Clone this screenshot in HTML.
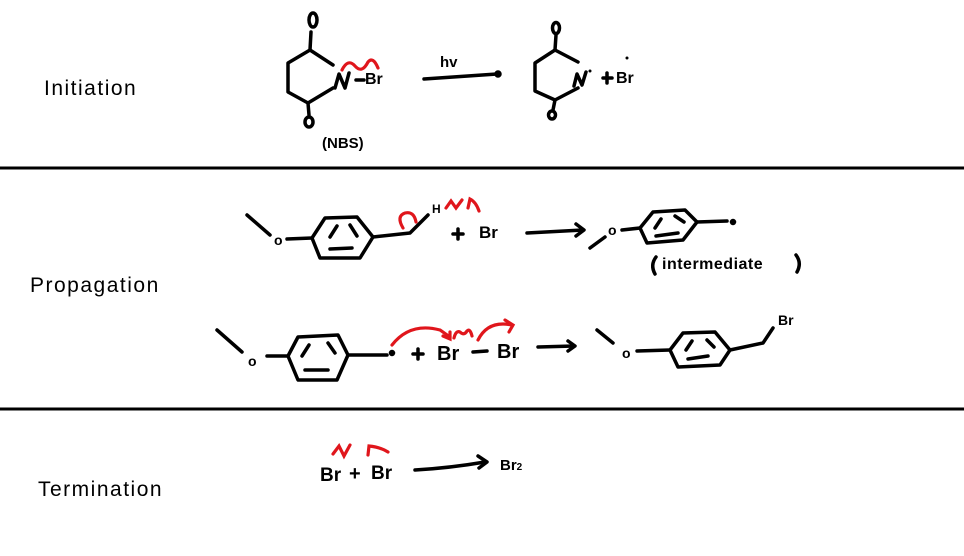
<!DOCTYPE html>
<html><head><style>
html,body{margin:0;padding:0;background:#fff;}
svg{display:block}
text{font-family:"Liberation Sans",sans-serif;}
</style></head><body>
<svg width="964" height="556" viewBox="0 0 964 556" xmlns="http://www.w3.org/2000/svg">
<g fill="none" stroke="#000" stroke-width="3.5" stroke-linecap="round" stroke-linejoin="round">
<line x1="0" y1="168" x2="964" y2="168" stroke-width="3"/>
<line x1="0" y1="409" x2="964" y2="409" stroke-width="3"/>
<!-- NBS -->
<path d="M333,65 L310,50 L288,63 L288,92 L308,103 L333,88"/>
<line x1="310" y1="50" x2="311" y2="32"/>
<ellipse cx="313" cy="20" rx="4" ry="7"/>
<line x1="308" y1="103" x2="309" y2="115"/>
<ellipse cx="309" cy="122" rx="4" ry="5"/>
<path d="M335,88 L339,74 L345,88 L349,73"/>
<line x1="356" y1="80" x2="364" y2="80"/>
<path d="M424,79 L497,74"/>
<circle cx="498" cy="74" r="2" fill="#000"/>
<path d="M578,62 L555,50 L535,63 L535,91 L555,100 L578,88"/>
<line x1="555" y1="50" x2="556" y2="35"/>
<ellipse cx="556" cy="28" rx="3.5" ry="5.5"/>
<line x1="555" y1="100" x2="553" y2="110"/>
<ellipse cx="552" cy="115" rx="3.5" ry="4"/>
<path d="M574,86 L577,74 L582,85 L586,72"/>
<line x1="603" y1="78" x2="612" y2="78"/>
<line x1="607" y1="73" x2="607" y2="83"/>
<!-- prop row 1 -->
<path d="M247,215 L270,235"/>
<line x1="287" y1="239" x2="312" y2="238"/>
<path d="M312,238 L325,218 L357,217 L373,237 L360,258 L320,258 Z"/>
<line x1="330" y1="237" x2="337" y2="226"/><line x1="350" y1="225" x2="357" y2="236"/><line x1="330" y1="249" x2="352" y2="248"/>
<path d="M373,237 L410,233 L428,215"/>
<line x1="453" y1="234" x2="463" y2="234"/><line x1="458" y1="229" x2="458" y2="239"/>
<path d="M527,233 L583,230"/><path d="M576,224 L584,230 L576,236"/>
<path d="M590,248 L605,237"/>
<line x1="622" y1="230" x2="640" y2="228"/>
<path d="M640,228 L653,212 L685,210 L697,222 L683,240 L647,243 Z"/>
<line x1="655" y1="228" x2="661" y2="219"/><line x1="675" y1="216" x2="684" y2="222"/><line x1="656" y1="236" x2="678" y2="233"/>
<line x1="697" y1="222" x2="727" y2="221"/>
<circle cx="733" cy="222" r="1.5" fill="#000"/>
<path d="M656,257 Q650,265 655,274"/><path d="M796,255 Q802,263 797,272"/>
<!-- prop row 2 -->
<path d="M217,330 L242,352"/>
<line x1="267" y1="356" x2="288" y2="356"/>
<path d="M288,356 L298,337 L338,335 L348,355 L337,380 L298,380 Z"/>
<line x1="302" y1="356" x2="309" y2="345"/><line x1="328" y1="343" x2="335" y2="353"/><line x1="305" y1="370" x2="328" y2="370"/>
<line x1="348" y1="355" x2="387" y2="355"/>
<circle cx="392" cy="353" r="1.5" fill="#000"/>
<line x1="413" y1="354" x2="423" y2="354"/><line x1="418" y1="349" x2="418" y2="359"/>
<line x1="473" y1="352" x2="487" y2="351"/>
<path d="M538,347 L574,346"/><path d="M568,341 L575,346 L568,351"/>
<path d="M597,330 L613,343"/>
<line x1="637" y1="351" x2="670" y2="350"/>
<path d="M670,350 L683,333 L715,332 L730,350 L720,365 L678,367 Z"/>
<line x1="686" y1="350" x2="692" y2="341"/><line x1="707" y1="340" x2="714" y2="347"/><line x1="688" y1="359" x2="708" y2="356"/>
<path d="M730,350 L763,343 L773,328"/>
<!-- termination -->
<path d="M415,470 Q450,468 485,462"/><path d="M478,456 L487,462 L479,468"/>
</g>
<g fill="none" stroke="#e0161c" stroke-width="3.2" stroke-linecap="round">
<path d="M342,70 Q348,58 355,66 Q362,74 368,62 Q373,56 378,68"/>
<path d="M403,228 Q396,216 405,213 Q414,211 416,222"/>
<path d="M446,208 L451,201 L456,208 L462,200"/>
<path d="M468,208 L470,199 Q476,202 479,211"/>
<path d="M392,345 Q410,322 440,330 L450,337"/>
<path d="M443,336 L450,339 L450,332"/>
<path d="M454,338 Q456,330 460,332 Q464,336 467,331 Q470,328 472,336"/>
<path d="M478,340 Q488,320 512,325"/>
<path d="M505,320 L513,325 L509,332"/>
<path d="M333,454 L339,446 L344,456 L350,445"/>
<path d="M368,455 L369,446 Q380,447 388,452"/>
</g>
<g font-family="Liberation Sans,sans-serif" fill="#000">
<text x="44" y="95" font-size="21" letter-spacing="1.5">Initiation</text>
<text x="30" y="292" font-size="21" letter-spacing="1.5">Propagation</text>
<text x="38" y="496" font-size="21" letter-spacing="1.5">Termination</text>
<text x="365" y="84" font-size="16" font-weight="bold">Br</text>
<text x="322" y="148" font-size="15" font-weight="bold">(NBS)</text>
<text x="440" y="67" font-size="15" font-weight="bold">hv</text>
<text x="616" y="83" font-size="16" font-weight="bold">Br</text>
<circle cx="627" cy="58" r="1.5"/><circle cx="590" cy="71" r="1.5"/>
<text x="274" y="245" font-size="14" font-weight="bold">o</text>
<text x="432" y="213" font-size="12" font-weight="bold">H</text>
<text x="479" y="238" font-size="17" font-weight="bold">Br</text>
<text x="608" y="235" font-size="14" font-weight="bold">o</text>
<text x="662" y="269" font-size="16" font-weight="bold" letter-spacing="0.5">intermediate</text>
<text x="248" y="366" font-size="14" font-weight="bold">o</text>
<text x="437" y="360" font-size="20" font-weight="bold">Br</text>
<text x="497" y="358" font-size="20" font-weight="bold">Br</text>
<text x="622" y="358" font-size="14" font-weight="bold">o</text>
<text x="778" y="325" font-size="14" font-weight="bold">Br</text>
<text x="320" y="481" font-size="19" font-weight="bold">Br</text>
<text x="349" y="480" font-size="20" font-weight="bold">+</text>
<text x="371" y="479" font-size="19" font-weight="bold">Br</text>
<text x="500" y="470" font-size="15" font-weight="bold">Br<tspan font-size="10">2</tspan></text>
</g>
</svg>
</body></html>
